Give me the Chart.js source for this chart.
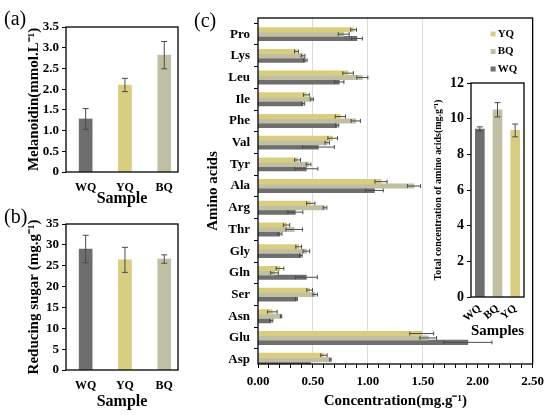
<!DOCTYPE html>
<html lang="en">
<head>
<meta charset="UTF-8">
<title>Melanoidin, reducing sugar and amino acids</title>
<script src="https://cdn.jsdelivr.net/npm/chart.js@4.4.1/dist/chart.umd.min.js"></script>
<style>
    body { margin: 0; background: #fff; }
    #wrap { position: relative; width: 550px; height: 415px; overflow: hidden; font-family: "Liberation Serif", serif; }
    .panel { position: absolute; }
    .tag { position: absolute; font-size: 20px; line-height: 1; color: #000; }
</style>
</head>
<body>
<div id="wrap">
    <div class="panel" style="left:21px;top:0;width:164px;height:212px"><canvas id="chartA"></canvas></div>
    <div class="panel" style="left:21px;top:200px;width:164px;height:215px"><canvas id="chartB"></canvas></div>
    <div class="panel" style="left:200px;top:0;width:350px;height:414px"><canvas id="chartC"></canvas></div>
    <div class="panel" style="left:428px;top:70px;width:102px;height:270px"><canvas id="chartD"></canvas></div>
    <div class="tag" style="left:4px;top:8px">(a)</div>
    <div class="tag" style="left:4px;top:206px">(b)</div>
    <div class="tag" style="left:194px;top:10px">(c)</div>
</div>

<script>
    // ---- data ----
    const samples = ['WQ', 'YQ', 'BQ'];
    const melanoidin = [1.28, 2.10, 2.82];
    const melanoidinErr = [0.25, 0.16, 0.33];
    const reducingSugar = [29.0, 26.4, 26.6];
    const reducingSugarErr = [3.3, 3.0, 1.0];

    const aminoAcids = ['Pro', 'Lys', 'Leu', 'Ile', 'Phe', 'Val', 'Tyr', 'Ala',
                        'Arg', 'Thr', 'Gly', 'Gln', 'Ser', 'Asn', 'Glu', 'Asp'];
    const yqAmino    = [0.87, 0.35, 0.82, 0.44, 0.75, 0.68, 0.36, 1.12, 0.48, 0.26, 0.37, 0.20, 0.47, 0.13, 1.49, 0.60];
    const yqAminoErr = [0.026, 0.018, 0.048, 0.027, 0.047, 0.044, 0.027, 0.055, 0.038, 0.029, 0.026, 0.035, 0.026, 0.044, 0.109, 0.029];
    const bqAmino    = [0.78, 0.41, 0.95, 0.49, 0.89, 0.63, 0.46, 1.42, 0.61, 0.33, 0.44, 0.15, 0.52, 0.21, 1.55, 0.66];
    const bqAminoErr = [0.05, 0.017, 0.05, 0.014, 0.042, 0.02, 0.021, 0.06, 0.017, 0.076, 0.03, 0.035, 0.021, 0.006, 0.076, 0.006];
    const wqAmino    = [0.90, 0.43, 0.74, 0.41, 0.72, 0.55, 0.44, 1.06, 0.34, 0.20, 0.39, 0.44, 0.35, 0.12, 1.91, 0.48];
    const wqAminoErr = [0.05, 0.017, 0.042, 0.015, 0.015, 0.145, 0.105, 0.08, 0.068, 0.018, 0.012, 0.10, 0.008, 0.015, 0.22, 0];

    const totalSamples = ['WQ', 'BQ', 'YQ'];
    const totalAmino = [9.42, 10.5, 9.34];
    const totalAminoErr = [0.12, 0.40, 0.36];

    const colorOf = { WQ: '#6e6e6e', YQ: '#d9ce80', BQ: '#c0bfa4' };

    Chart.defaults.font.family = '"Liberation Serif", "Times New Roman", serif';
    Chart.defaults.font.weight = 'bold';
    Chart.defaults.color = '#000';

    const onStep = (v, step) => Math.abs(v / step - Math.round(v / step)) < 1e-6;
    const bold = size => ({ size: size, weight: 'bold', family: '"Liberation Serif", "Times New Roman", serif' });

    // error bars drawn at the end of every bar
    const errorBars = {
        id: 'errorBars',
        afterDatasetsDraw(chart) {
            const ctx = chart.ctx;
            const horizontal = chart.options.indexAxis === 'y';
            chart.data.datasets.forEach((ds, i) => {
                if (!ds.errors) return;
                const meta = chart.getDatasetMeta(i);
                const vScale = meta.vScale;
                meta.data.forEach((bar, j) => {
                    const e = ds.errors[j];
                    if (!e) return;
                    const v = meta.controller.getParsed(j)[vScale.axis];
                    const lo = vScale.getPixelForValue(v - e);
                    const hi = vScale.getPixelForValue(v + e);
                    const cap = horizontal ? 2 : 3;
                    ctx.save();
                    ctx.strokeStyle = '#4a4a4a';
                    ctx.lineWidth = 1;
                    ctx.beginPath();
                    if (horizontal) {
                        ctx.moveTo(lo, bar.y); ctx.lineTo(hi, bar.y);
                        ctx.moveTo(lo, bar.y - cap); ctx.lineTo(lo, bar.y + cap);
                        ctx.moveTo(hi, bar.y - cap); ctx.lineTo(hi, bar.y + cap);
                    } else {
                        ctx.moveTo(bar.x, lo); ctx.lineTo(bar.x, hi);
                        ctx.moveTo(bar.x - cap, lo); ctx.lineTo(bar.x + cap, lo);
                        ctx.moveTo(bar.x - cap, hi); ctx.lineTo(bar.x + cap, hi);
                    }
                    ctx.stroke();
                    ctx.restore();
                });
            });
        }
    };

    // black box round the plot area
    const frame = {
        id: 'frame',
        afterDatasetsDraw(chart) {
            const a = chart.chartArea;
            const ctx = chart.ctx;
            ctx.save();
            ctx.strokeStyle = '#000';
            ctx.lineWidth = 1.3;
            ctx.strokeRect(a.left, a.top, a.right - a.left, a.bottom - a.top);
            ctx.restore();
        }
    };

    // small legend in the top right corner of panel (c)
    const cornerLegend = {
        id: 'cornerLegend',
        afterDraw(chart) {
            const { ctx, chartArea } = chart;
            ctx.save();
            ctx.font = 'bold 11px "Liberation Serif", serif';
            ctx.textBaseline = 'middle';
            chart.data.datasets.forEach((ds, i) => {
                const x = chartArea.right - 42;
                const y = chartArea.top + 16 + i * 17.5;
                ctx.fillStyle = ds.backgroundColor;
                ctx.fillRect(x, y - 2.5, 5, 5);
                ctx.fillStyle = '#000';
                ctx.fillText(ds.label, x + 7, y);
            });
            ctx.restore();
        }
    };

    function sampleChart(id, values, errors, yTitle, yMax, yStep, padTop, xHeight) {
        return new Chart(document.getElementById(id), {
            type: 'bar',
            data: {
                datasets: [{
                    data: values.map((v, i) => ({ x: i, y: v })),
                    errors: errors,
                    backgroundColor: samples.map(s => colorOf[s]),
                    barThickness: 13
                }]
            },
            options: {
                responsive: true,
                maintainAspectRatio: false,
                animation: false,
                layout: { padding: { top: padTop, right: 7 } },
                plugins: { legend: { display: false }, tooltip: { enabled: false } },
                scales: {
                    x: {
                        type: 'linear', min: -0.5, max: 2.35, offset: false,
                        grid: { display: false, offset: false }, border: { display: false },
                        ticks: {
                            stepSize: 1, includeBounds: false, autoSkip: false, maxRotation: 0, padding: 1,
                            font: bold(12),
                            callback: v => Number.isInteger(v) ? samples[v] : ''
                        },
                        title: { display: true, text: 'Sample', font: bold(16), padding: { top: 0, bottom: 4 } },
                        afterFit: s => { s.height = xHeight; }
                    },
                    y: {
                        min: 0, max: yMax,
                        ticks: { stepSize: yStep, font: bold(13), padding: 3 },
                        grid: { drawOnChartArea: false, tickLength: 4, color: '#000' },
                        border: { display: false },
                        title: { display: true, text: yTitle, font: bold(15), padding: { top: 4, bottom: 2 } },
                        afterFit: s => { s.width = 45; }
                    }
                }
            },
            plugins: [errorBars, frame]
        });
    }

    sampleChart('chartA', melanoidin, melanoidinErr, 'Melanoidin(mmol.L⁻¹)', 3.5, 0.5, 27, 40);
    sampleChart('chartB', reducingSugar, reducingSugarErr, 'Reducing sugar (mg.g⁻¹)', 35, 5, 24, 45);

    // ---- panel (c): amino acids ----
    const aminoSets = [
        { label: 'YQ', values: yqAmino, errors: yqAminoErr },
        { label: 'BQ', values: bqAmino, errors: bqAminoErr },
        { label: 'WQ', values: wqAmino, errors: wqAminoErr }
    ];

    new Chart(document.getElementById('chartC'), {
        type: 'bar',
        data: {
            datasets: aminoSets.map(s => ({
                label: s.label,
                data: s.values.map((v, i) => ({ x: v, y: i })),
                errors: s.errors,
                backgroundColor: colorOf[s.label],
                barThickness: 4.4
            }))
        },
        options: {
            indexAxis: 'y',
            responsive: true,
            maintainAspectRatio: false,
            animation: false,
            layout: { padding: { top: 18, right: 17 } },
            plugins: { legend: { display: false }, tooltip: { enabled: false } },
            scales: {
                x: {
                    type: 'linear', min: 0, max: 2.5,
                    ticks: {
                        stepSize: 0.1, autoSkip: false, maxRotation: 0, padding: 6,
                        font: bold(13),
                        callback: v => onStep(v, 0.5) ? v.toFixed(2) : ''
                    },
                    grid: {
                        color: c => (c.tick && onStep(c.tick.value, 0.5) && c.tick.value > 0 && c.tick.value < 2) ? '#dcdcdc' : 'rgba(0,0,0,0)',
                        tickColor: '#000', tickLength: 4
                    },
                    border: { display: false },
                    title: { display: true, text: 'Concentration(mg.g⁻¹)', font: bold(15), padding: { top: 0, bottom: 4 } },
                    afterFit: s => { s.height = 50; }
                },
                y: {
                    type: 'linear', reverse: true, min: -0.744, max: 15.2, offset: false,
                    ticks: {
                        stepSize: 0.5, includeBounds: false, autoSkip: false, padding: 4,
                        font: bold(13),
                        callback: v => Number.isInteger(v) ? aminoAcids[v] : ''
                    },
                    grid: {
                        drawOnChartArea: false, tickLength: 4, offset: false,
                        tickColor: c => (c.tick && !Number.isInteger(c.tick.value)) ? '#000' : 'rgba(0,0,0,0)'
                    },
                    border: { display: false },
                    title: { display: true, text: 'Amino acids', font: bold(15), padding: { top: 4, bottom: 2 } },
                    afterFit: s => { s.width = 58; }
                }
            }
        },
        plugins: [errorBars, frame, cornerLegend]
    });

    // ---- inset: total amino acids ----
    new Chart(document.getElementById('chartD'), {
        type: 'bar',
        data: {
            labels: totalSamples,
            datasets: [{
                data: totalAmino,
                errors: totalAminoErr,
                backgroundColor: totalSamples.map(s => colorOf[s]),
                barThickness: 9
            }]
        },
        options: {
            responsive: true,
            maintainAspectRatio: false,
            animation: false,
            layout: { padding: { top: 13, right: 6 } },
            plugins: { legend: { display: false }, tooltip: { enabled: false } },
            scales: {
                x: {
                    grid: { display: false }, border: { display: false },
                    ticks: { minRotation: 40, maxRotation: 40, autoSkip: false, padding: -3, font: bold(11) },
                    title: { display: true, text: 'Samples', font: bold(15), padding: 0 },
                    afterFit: s => { s.height = 43; }
                },
                y: {
                    min: 0, max: 12,
                    ticks: { stepSize: 2, font: bold(14), padding: 3 },
                    grid: { drawOnChartArea: false, tickLength: 4, color: '#000' },
                    border: { display: false },
                    title: { display: true, text: 'Total concentration of amino acids(mg.g⁻¹)', font: bold(10), padding: { top: 4, bottom: 2 } },
                    afterFit: s => { s.width = 43; }
                }
            }
        },
        plugins: [errorBars, frame]
    });
</script>
</body>
</html>
